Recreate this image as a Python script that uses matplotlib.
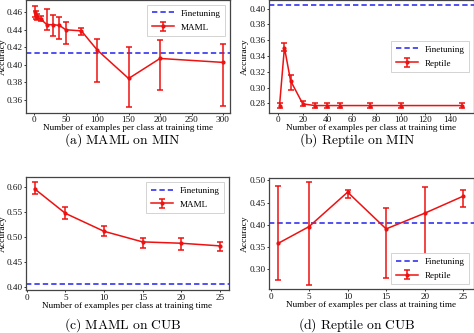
"""
Accuracy vs number of examples per class at training time (MAML / Reptile on MIN and CUB).
"""
import matplotlib
matplotlib.use("Agg")
import matplotlib.pyplot as plt

plt.rcParams["font.family"] = ["Liberation Serif", "DejaVu Serif"]
plt.rcParams["mathtext.fontset"] = "cm"

# (a) MAML on MIN
maml_min_x = [1, 3, 5, 10, 20, 30, 40, 50, 75, 100, 150, 200, 300]
maml_min_y = [0.460, 0.4565, 0.4545, 0.4525, 0.4458, 0.4458, 0.4450, 0.4400, 0.4387, 0.4169, 0.3843, 0.4072, 0.4027]
maml_min_lo = [0.455, 0.4525, 0.4515, 0.4500, 0.4394, 0.4327, 0.4300, 0.4240, 0.4345, 0.3806, 0.3514, 0.3709, 0.3533]
maml_min_hi = [0.4671, 0.4619, 0.4580, 0.4560, 0.4634, 0.4566, 0.4544, 0.4484, 0.4424, 0.4297, 0.4203, 0.4278, 0.4240]
maml_min_ft = 0.4139

# (b) Reptile on MIN
rep_min_x = [1, 5, 10, 20, 30, 40, 50, 75, 100, 150]
rep_min_y = [0.2771, 0.3507, 0.3086, 0.2792, 0.2771, 0.2771, 0.2771, 0.2771, 0.2771, 0.2771]
rep_min_lo = [0.2740, 0.3457, 0.2973, 0.2762, 0.2745, 0.2745, 0.2745, 0.2745, 0.2745, 0.2745]
rep_min_hi = [0.2805, 0.3562, 0.3162, 0.2825, 0.2800, 0.2800, 0.2800, 0.2800, 0.2800, 0.2800]
rep_min_ft = 0.4042

# (c) MAML on CUB
maml_cub_x = [1, 5, 10, 15, 20, 25]
maml_cub_y = [0.5973, 0.5480, 0.5120, 0.4907, 0.4880, 0.4827]
maml_cub_lo = [0.5873, 0.5360, 0.5020, 0.4793, 0.4747, 0.4720]
maml_cub_hi = [0.6107, 0.5613, 0.5220, 0.4993, 0.4980, 0.4907]
maml_cub_ft = 0.4053

# (d) Reptile on CUB
rep_cub_x = [1, 5, 10, 15, 20, 25]
rep_cub_y = [0.3586, 0.3962, 0.4737, 0.3910, 0.4263, 0.4647]
rep_cub_lo = [0.2760, 0.2654, 0.4609, 0.2812, 0.3000, 0.4398]
rep_cub_hi = [0.4887, 0.4977, 0.4797, 0.4376, 0.4857, 0.4797]
rep_cub_ft = 0.4038

XLABEL = "Number of examples per class at training time"


def panel(fig, rect, x, y, lo, hi, ft, label, legend_loc, xlim, ylim, xticks, yticks, ylab_x):
    ax = fig.add_axes(rect)
    ax.axhline(ft, color="#2222ee", ls="--", lw=1.1, dashes=(3.5, 2), label="Finetuning")
    yerr = [[v - l for v, l in zip(y, lo)], [h - v for v, h in zip(y, hi)]]
    ax.errorbar(x, y, yerr=yerr, color="#ee1111", lw=1.1, elinewidth=1.1,
                capsize=2.2, capthick=1.1, marker="o", ms=2, label=label)
    ax.set_xlim(*xlim)
    ax.set_ylim(*ylim)
    ax.set_xticks(xticks)
    ax.set_yticks(yticks)
    ax.set_yticklabels([f"{t:.2f}" for t in yticks])
    ax.tick_params(labelsize=6.6, length=1.5, width=0.6, pad=1, colors="#111111")
    for s in ax.spines.values():
        s.set_color("#444444")
        s.set_linewidth(0.9)
    ax.set_xlabel(XLABEL, fontsize=6.6, labelpad=0)
    ax.set_ylabel("Accuracy", fontsize=6.8)
    ax.yaxis.set_label_coords(ylab_x, 0.5)
    leg = ax.legend(loc=legend_loc, fontsize=6.6, frameon=True, fancybox=False,
                    borderpad=0.5, handlelength=2.4, labelspacing=0.6, framealpha=1)
    leg.get_frame().set_edgecolor("#cccccc")
    leg.get_frame().set_linewidth(0.6)
    return ax


fig = plt.figure(figsize=(4.74, 3.33), dpi=100)

panel(fig, [0.055, 0.661, 0.430, 0.339], maml_min_x, maml_min_y, maml_min_lo, maml_min_hi,
      maml_min_ft, "MAML", "upper right", (-13, 311), (0.345, 0.474),
      [0, 50, 100, 150, 200, 250, 300], [0.36, 0.38, 0.40, 0.42, 0.44, 0.46], -0.095)
panel(fig, [0.5675, 0.661, 0.4325, 0.339], rep_min_x, rep_min_y, rep_min_lo, rep_min_hi,
      rep_min_ft, "Reptile", "center right", (-7.6, 159.7), (0.2678, 0.411),
      [0, 20, 40, 60, 80, 100, 120, 140], [0.28, 0.30, 0.32, 0.34, 0.36, 0.38, 0.40], -0.1)
panel(fig, [0.055, 0.129, 0.428, 0.339], maml_cub_x, maml_cub_y, maml_cub_lo, maml_cub_hi,
      maml_cub_ft, "MAML", "upper right", (-0.1, 26.2), (0.394, 0.6207),
      [0, 5, 10, 15, 20, 25], [0.40, 0.45, 0.50, 0.55, 0.60], -0.095)
panel(fig, [0.5675, 0.132, 0.4325, 0.334], rep_cub_x, rep_cub_y, rep_cub_lo, rep_cub_hi,
      rep_cub_ft, "Reptile", "lower right", (-0.2, 26.4), (0.2556, 0.506),
      [0, 5, 10, 15, 20, 25], [0.30, 0.35, 0.40, 0.45, 0.50], -0.1)

captions = [(0.259, 1 - 140.5 / 333, r"$\mathrm{(a)\ MAML\ on\ MIN}$"),
            (0.754, 1 - 140.5 / 333, r"$\mathrm{(b)\ Reptile\ on\ MIN}$"),
            (0.259, 1 - 325.5 / 333, r"$\mathrm{(c)\ MAML\ on\ CUB}$"),
            (0.754, 1 - 325.5 / 333, r"$\mathrm{(d)\ Reptile\ on\ CUB}$")]
for cx, cy, txt in captions:
    fig.text(cx, cy, txt, ha="center", va="center", fontsize=9.8)

fig.savefig("out.png", dpi=100)
